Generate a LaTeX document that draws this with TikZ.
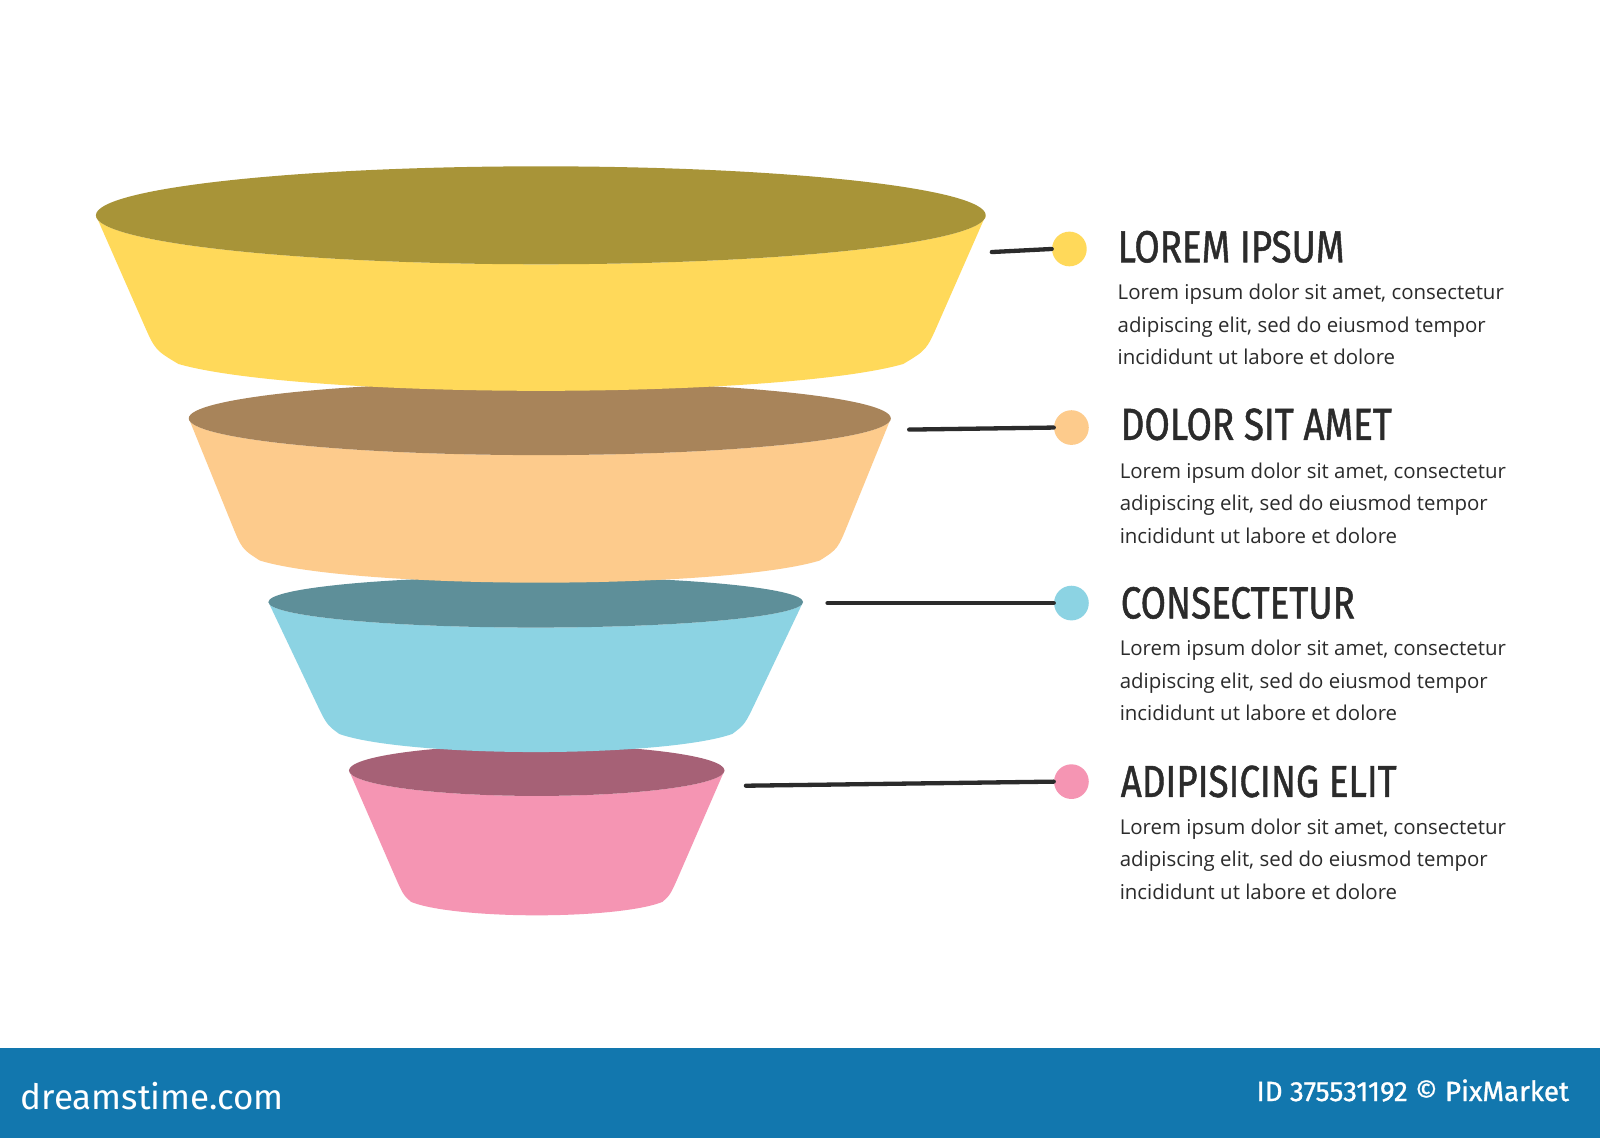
\documentclass[tikz,border=0pt]{standalone}
\usepackage{fontspec}
\setmainfont{Open Sans}
\newfontfamily\titlefont{Fira Sans}[FakeBold=1.2]
\newfontfamily\barfont{Fira Sans}
\newfontfamily\creditfont{Fira Sans}[FakeBold=1]
\definecolor{ybody}{HTML}{FFD95A}
\definecolor{ytop}{HTML}{A89438}
\definecolor{obody}{HTML}{FDCB8C}
\definecolor{otop}{HTML}{A8845A}
\definecolor{bbody}{HTML}{8CD3E3}
\definecolor{btop}{HTML}{5E8F99}
\definecolor{pbody}{HTML}{F595B3}
\definecolor{ptop}{HTML}{A66176}
\definecolor{ink}{HTML}{2B2B2B}
\definecolor{barblue}{HTML}{1277AE}
% #1 cx, #2 top y, #3 top rx, #4 top ry, #5 bottom y, #6 bottom rx, #7 bottom ry, #8 body colour, #9 top colour
\newcommand\fnlayer[9]{%
  \fill[#8] (#1-#3,#2)
    -- ({#1-#3+0.8*(#3-#6)},{#2+0.8*(#5-#2)})
    .. controls (#1-#6,#5) .. ({#1-0.9397*#6},{#5+0.342*#7})
    arc[start angle=160,end angle=20,x radius=#6,y radius=#7]
    .. controls (#1+#6,#5) .. ({#1+#3-0.8*(#3-#6)},{#2+0.8*(#5-#2)})
    -- (#1+#3,#2)
    arc[start angle=0,end angle=180,x radius=#3,y radius=#4] -- cycle;
  \fill[#9] (#1,#2) ellipse[x radius=#3,y radius=#4];
}
\tikzset{
  dot/.style={circle,inner sep=0pt,minimum size=0.68cm},
  leader/.style={draw=ink,line width=2.4pt,line cap=round},
  ttl/.style={anchor=base west,inner sep=0pt,text=ink,font=\titlefont\fontsize{25}{25}\selectfont},
  desc/.style={anchor=north west,inner sep=0pt,align=left,text=ink,font=\fontsize{11.4}{18.1}\selectfont},
}
\begin{document}
\begin{tikzpicture}[x=0.02cm,y=-0.02cm]
\useasboundingbox (0,0) rectangle (1568,1115);
\fill[white] (0,0) rectangle (1568,1115);
% funnel layers, bottom to top
\fnlayer{526}{755}{184}{25}{877}{131}{20}{pbody}{ptop}
\fnlayer{525}{590}{262}{25}{710}{205}{27}{bbody}{btop}
\fnlayer{529}{410}{344}{36}{538}{292}{33}{obody}{otop}
\fnlayer{530}{211}{436}{48}{343}{378}{40}{ybody}{ytop}
% dots
\node[dot,fill=ybody] (d1) at (1048,244) {};
\node[dot,fill=obody] (d2) at (1050,419) {};
\node[dot,fill=bbody] (d3) at (1050,591) {};
\node[dot,fill=pbody] (d4) at (1050,766) {};
\coordinate (s1) at (972,247);
\coordinate (s2) at (891,421);
\coordinate (s3) at (811,591);
\coordinate (s4) at (731,770);
\draw[leader] (s1) -- (d1.west);
\draw[leader] (s2) -- (d2.west);
\draw[leader] (s3) -- (d3.west);
\draw[leader] (s4) -- (d4.west);
% titles
\node[ttl] (t1) at (1095,257) {\scalebox{0.82}[1]{LOREM IPSUM}};
\node[ttl] (t2) at (1098,431) {\scalebox{0.82}[1]{DOLOR SIT AMET}};
\node[ttl] (t3) at (1098,606) {\scalebox{0.82}[1]{CONSECTETUR}};
\node[ttl] (t4) at (1098,781) {\scalebox{0.82}[1]{ADIPISICING ELIT}};
% descriptions
\node[desc] (p1) at (1095,278) {Lorem ipsum dolor sit amet, consectetur\\adipiscing elit, sed do eiusmod tempor\\incididunt ut labore et dolore};
\node[desc] (p2) at (1097,453) {Lorem ipsum dolor sit amet, consectetur\\adipiscing elit, sed do eiusmod tempor\\incididunt ut labore et dolore};
\node[desc] (p3) at (1097,627) {Lorem ipsum dolor sit amet, consectetur\\adipiscing elit, sed do eiusmod tempor\\incididunt ut labore et dolore};
\node[desc] (p4) at (1097,802) {Lorem ipsum dolor sit amet, consectetur\\adipiscing elit, sed do eiusmod tempor\\incididunt ut labore et dolore};
% bottom bar
\fill[barblue] (0,1027) rectangle (1568,1115);
\node[anchor=base west,inner sep=0pt,text=white,font=\barfont\fontsize{19.5}{19.5}\selectfont] (brand) at (20,1087) {dreamstime.com};
\node[anchor=base east,inner sep=0pt,text=white,font=\creditfont\fontsize{15.5}{15.5}\selectfont] (credit) at (1538,1079) {ID 375531192 © PixMarket};
\end{tikzpicture}
\end{document}
